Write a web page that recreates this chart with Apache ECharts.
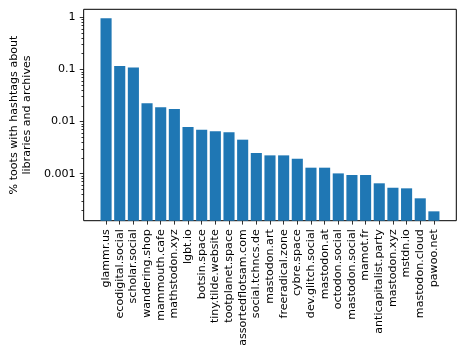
<!DOCTYPE html>
<html>
<head>
<meta charset="utf-8">
<script src="https://cdn.jsdelivr.net/npm/echarts@6/dist/echarts.min.js"></script>
<style>
  html, body { margin: 0; padding: 0; background: #fff; }
  #chart { width: 474px; height: 353px; }
</style>
</head>
<body>
<div id="chart"></div>
<script>
// instances, sorted by share
const categories = [
  'glammr.us', 'ecodigital.social', 'scholar.social', 'wandering.shop',
  'mammouth.cafe', 'mathstodon.xyz', 'lgbt.io', 'botsin.space',
  'tiny.tilde.website', 'tootplanet.space', 'assortedflotsam.com',
  'social.tchncs.de', 'mastodon.art', 'freeradical.zone', 'cybre.space',
  'dev.glitch.social', 'mastodon.at', 'octodon.social', 'mastodon.social',
  'mamot.fr', 'anticapitalist.party', 'mastodon.xyz', 'mstdn.io',
  'mastodon.cloud', 'pawoo.net'
];
// % of toots with library/archive hashtags
const shares = [
  0.957, 0.116, 0.108, 0.0223, 0.0187, 0.0174, 0.00784, 0.00696,
  0.00648, 0.00621, 0.00448, 0.00249, 0.00224, 0.00224, 0.00193,
  0.0013, 0.0013, 0.00101, 0.00094, 0.00094, 0.000652, 0.000536,
  0.000522, 0.000336, 0.000189
];
const yTicks = [0.001, 0.01, 0.1, 1];
const yTickLabels = ['0.001', '0.01', '0.1', '1'];
const yMin = 0.000125;
const yMax = 1.42;

// minor log ticks (2..9 x 10^k)
const minorTicks = [];
for (let e = -4; e <= 0; e++) {
  for (let m = 2; m <= 9; m++) {
    const v = m * Math.pow(10, e);
    if (v > yMin && v < yMax) minorTicks.push(v);
  }
}

const font = 'DejaVu Sans';
const fs = 11.1;
const chart = echarts.init(document.getElementById('chart'));

const option = {
  animation: false,
  grid: {
    left: 78, top: 9.3, width: 378.3, height: 211.4,
    show: true, borderColor: '#000', borderWidth: 1, backgroundColor: 'transparent'
  },
  xAxis: {
    type: 'value',
    min: -1.64,
    max: categories.length - 1 + 1.64,
    axisLine: { show: false, onZero: false },
    splitLine: { show: false },
    axisTick: {
      show: true, length: 3.9,
      lineStyle: { color: '#000', width: 0.8 },
      customValues: categories.map((c, i) => i)
    },
    axisLabel: {
      customValues: categories.map((c, i) => i),
      rotate: 90,
      margin: 8.5,
      fontFamily: font, fontSize: fs, color: '#000',
      formatter: (v) => categories[Math.round(v)]
    }
  },
  yAxis: [
    {
      type: 'log',
      min: yMin,
      max: yMax,
      startValue: yMin,
      position: 'left',
      name: '% toots with hashtags about\nlibraries and archives',
      nameLocation: 'middle',
      nameRotate: 90,
      nameGap: 48.5,
      nameTextStyle: { fontFamily: font, fontSize: fs, color: '#000', lineHeight: 12.5 },
      axisLine: { show: false, onZero: false },
      splitLine: { show: false },
      axisTick: {
        show: true, length: 3.9,
        lineStyle: { color: '#000', width: 0.8 },
        customValues: yTicks
      },
      axisLabel: {
        customValues: yTicks,
        margin: 8,
        fontFamily: font, fontSize: fs, color: '#000',
        formatter: (v) => {
          const i = yTicks.findIndex(t => Math.abs(t - v) / t < 1e-6);
          return i >= 0 ? yTickLabels[i] : '';
        }
      }
    },
    {
      // minor ticks only
      type: 'log',
      min: yMin,
      max: yMax,
      position: 'left',
      offset: 0,
      axisLine: { show: false, onZero: false },
      splitLine: { show: false },
      axisLabel: { show: false },
      axisTick: {
        show: true, length: 2.2,
        lineStyle: { color: '#000', width: 0.8 },
        customValues: minorTicks
      }
    }
  ],
  series: [
    {
      type: 'bar',
      yAxisIndex: 0,
      barWidth: 11.1,
      itemStyle: { color: '#1f77b4' },
      data: categories.map((c, i) => [i, shares[i]])
    }
  ]
};

chart.setOption(option);
</script>
</body>
</html>
